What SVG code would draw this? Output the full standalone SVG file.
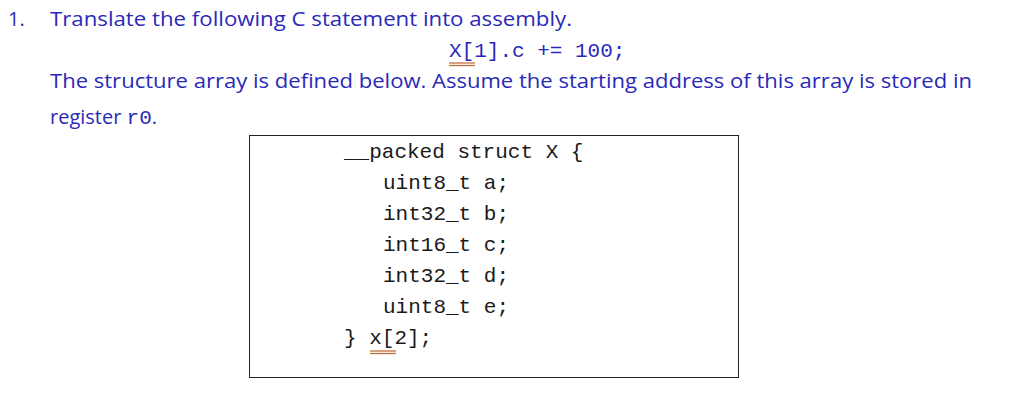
<svg xmlns="http://www.w3.org/2000/svg" width="1024" height="414" viewBox="0 0 1024 414">
<style>
.t{font-family:"Open Sans","Liberation Sans",sans-serif;font-size:20px;fill:#2a2ab8}
.m{font-family:"Liberation Mono","DejaVu Sans Mono",monospace;font-size:21px}
.b{fill:#2a2ab8}
.k{fill:#1a1a1a}
.u{stroke:#c0703a;stroke-width:1.3}
</style>
<rect width="1024" height="414" fill="#fff"/>
<text class="t" x="8" y="26">1.</text>
<text class="t" x="50" y="26" textLength="522" lengthAdjust="spacingAndGlyphs">Translate the following C statement into assembly.</text>
<text class="m b" x="449" y="57">X[1].c += 100;</text>
<line class="u" x1="449" y1="63" x2="475" y2="63"/>
<line class="u" x1="449" y1="65.5" x2="475" y2="65.5"/>
<text class="t" x="50" y="88" textLength="922" lengthAdjust="spacingAndGlyphs">The structure array is defined below. Assume the starting address of this array is stored in</text>
<text class="t" x="50" y="124">register <tspan class="m">r0</tspan>.</text>
<rect x="249.5" y="135.5" width="489" height="242" fill="none" stroke="#222" stroke-width="1"/>
<g class="m k">
<text x="344" y="158">__packed struct X {</text>
<text x="383" y="189">uint8_t a;</text>
<text x="383" y="220">int32_t b;</text>
<text x="383" y="251">int16_t c;</text>
<text x="383" y="282">int32_t d;</text>
<text x="383" y="313">uint8_t e;</text>
<text x="344" y="344">} x[2];</text>
</g>
<line class="u" x1="370" y1="351" x2="396" y2="351"/>
<line class="u" x1="370" y1="353.5" x2="396" y2="353.5"/>
</svg>
